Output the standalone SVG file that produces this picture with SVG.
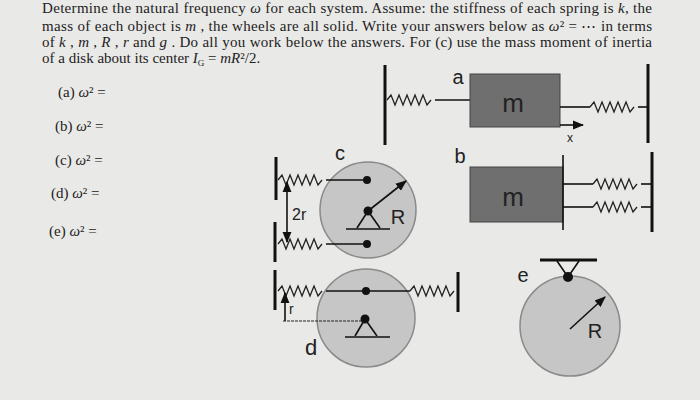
<svg xmlns="http://www.w3.org/2000/svg" width="700" height="400" viewBox="0 0 700 400">
<defs>
<marker id="ah" viewBox="0 0 10 10" refX="9" refY="5" markerWidth="7" markerHeight="7" orient="auto-start-reverse"><path d="M0,1 L10,5 L0,9 z" fill="#111"/></marker>
<path id="spr" d="M0,0 l4,-5 l4,10 l4,-10 l4,10 l4,-10 l4,10 l4,-10 l4,10 l4,-10 l4,10 l4,-5" fill="none" stroke="#222" stroke-width="1.3"/>
</defs>
<style>
.t{font-family:"Liberation Serif",serif;font-size:15px;fill:#222}
.s{font-family:"Liberation Sans",sans-serif;fill:#222}
.w{stroke:#111;stroke-width:3;fill:none}
.l{stroke:#111;stroke-width:1.6;fill:none}
.wh{fill:#c6c6c6;stroke:#8a8a8a;stroke-width:1.5}
.blk{fill:#6f6f6f;stroke:#444;stroke-width:1}
</style>
<rect width="700" height="400" fill="#e9e9e7"/>
<g id="prompt" class="t">
<text x="42" y="13" textLength="610" lengthAdjust="spacing">Determine the natural frequency <tspan font-style="italic">ω</tspan>  for each system. Assume: the stiffness of each spring is <tspan font-style="italic">k</tspan>, the</text>
<text x="42" y="31" textLength="610" lengthAdjust="spacing">mass of each object is <tspan font-style="italic">m</tspan> ,  the wheels are all solid. Write your answers below as <tspan font-style="italic">ω</tspan>² = ⋯  in terms</text>
<text x="42" y="47" textLength="610" lengthAdjust="spacing">of <tspan font-style="italic">k</tspan> , <tspan font-style="italic">m</tspan> , <tspan font-style="italic">R</tspan> , <tspan font-style="italic">r</tspan>  and <tspan font-style="italic">g</tspan> . Do all you work below the answers. For (c) use the mass moment of inertia</text>
<text x="42" y="63">of a disk about its center  <tspan font-style="italic">I</tspan><tspan font-size="9" dy="3">G</tspan><tspan dy="-3"> = </tspan><tspan font-style="italic">mR</tspan>²/2.</text>
</g>
<g id="answers" class="t">
<text x="58" y="97">(a)  <tspan font-style="italic">ω</tspan>²  =</text>
<text x="55" y="131">(b)  <tspan font-style="italic">ω</tspan>²  =</text>
<text x="55" y="165">(c)  <tspan font-style="italic">ω</tspan>²  =</text>
<text x="51" y="198">(d)  <tspan font-style="italic">ω</tspan>²  =</text>
<text x="49" y="236">(e)  <tspan font-style="italic">ω</tspan>²  =</text>
</g>
<g id="sysA">
<line class="w" x1="385" y1="65" x2="385" y2="145"/>
<use href="#spr" x="387" y="100"/><line class="l" x1="435" y1="100" x2="470" y2="100"/>
<rect class="blk" x="470" y="74" width="90" height="53"/>
<text class="s" x="513" y="112" font-size="26" text-anchor="middle">m</text>
<line class="l" x1="560" y1="107" x2="590" y2="107"/><use href="#spr" x="590" y="107"/><line class="l" x1="638" y1="107" x2="648" y2="107"/>
<line class="w" x1="648" y1="64" x2="648" y2="143"/>
<line class="l" x1="560" y1="125" x2="583" y2="125" stroke-width="1" marker-end="url(#ah)"/>
<text class="s" x="570" y="142" font-size="12" text-anchor="middle">x</text>
<text class="s" x="458" y="84" font-size="20" text-anchor="middle">a</text>
</g>
<g id="sysB">
<text class="s" x="460" y="163" font-size="20" text-anchor="middle">b</text>
<rect class="blk" x="470" y="167" width="93" height="55"/>
<line class="l" x1="563" y1="155" x2="563" y2="230" stroke-width="1"/>
<text class="s" x="513" y="206" font-size="26" text-anchor="middle">m</text>
<line class="l" x1="563" y1="184" x2="593" y2="184"/><use href="#spr" x="593" y="184"/><line class="l" x1="641" y1="184" x2="652" y2="184"/>
<line class="l" x1="563" y1="207" x2="593" y2="207"/><use href="#spr" x="593" y="207"/><line class="l" x1="641" y1="207" x2="652" y2="207"/>
<line class="w" x1="652" y1="152" x2="652" y2="232"/>
</g>
<g id="sysC">
<text class="s" x="340" y="160" font-size="20" text-anchor="middle">c</text>
<circle class="wh" cx="368" cy="210" r="48"/>
<line class="w" x1="276" y1="157" x2="276" y2="200"/>
<use href="#spr" x="278" y="180"/><line class="l" x1="326" y1="180" x2="367" y2="180"/>
<line class="w" x1="275" y1="222" x2="275" y2="262"/>
<use href="#spr" x="278" y="244"/><line class="l" x1="326" y1="244" x2="367" y2="244"/>
<circle cx="367" cy="180" r="4" fill="#111"/><circle cx="367" cy="244" r="4" fill="#111"/>
<line class="l" x1="287" y1="182" x2="287" y2="242" stroke-width="1" marker-start="url(#ah)" marker-end="url(#ah)"/>
<text class="s" x="292" y="220" font-size="16">2r</text>
<line class="l" x1="357" y1="228" x2="368" y2="211"/><line class="l" x1="380" y1="228" x2="368" y2="211"/>
<line class="l" x1="346" y1="229" x2="390" y2="229" stroke-width="1"/>
<circle cx="368" cy="211" r="4.5" fill="#111"/>
<line class="l" x1="368" y1="211" x2="406" y2="181" stroke-width="1.2" marker-end="url(#ah)"/>
<text class="s" x="398" y="224" font-size="20" text-anchor="middle">R</text>
</g>
<g id="sysD">
<circle class="wh" cx="366" cy="318" r="49"/>
<line class="w" x1="275" y1="270" x2="275" y2="310"/>
<use href="#spr" x="278" y="291"/><line class="l" x1="326" y1="291" x2="410" y2="291"/>
<use href="#spr" x="410" y="291"/>
<line class="w" x1="458" y1="272" x2="458" y2="312"/>
<circle cx="366" cy="291" r="4" fill="#111"/>
<line class="l" x1="285" y1="321" x2="285" y2="293" stroke-width="1" marker-end="url(#ah)"/>
<line x1="283" y1="321" x2="365" y2="321" stroke="#222" stroke-width="1" stroke-dasharray="3,1"/>
<text class="s" x="289" y="314" font-size="14">r</text>
<line class="l" x1="355" y1="336" x2="365" y2="319"/><line class="l" x1="377" y1="336" x2="365" y2="319"/>
<line class="l" x1="345" y1="337" x2="390" y2="337" stroke-width="1"/>
<circle cx="365" cy="319" r="4.5" fill="#111"/>
<text class="s" x="311" y="355" font-size="22" text-anchor="middle">d</text>
</g>
<g id="sysE">
<circle class="wh" cx="570" cy="326" r="50"/>
<line class="w" x1="540" y1="260" x2="597" y2="260"/>
<line class="l" x1="557" y1="261" x2="568" y2="277"/><line class="l" x1="579" y1="261" x2="568" y2="277"/>
<circle cx="568" cy="277" r="5" fill="#111"/>
<line class="l" x1="570" y1="329" x2="605" y2="297" stroke-width="1.2" marker-end="url(#ah)"/>
<text class="s" x="595" y="338" font-size="20" text-anchor="middle">R</text>
<text class="s" x="523" y="282" font-size="20" text-anchor="middle">e</text>
</g>
</svg>
